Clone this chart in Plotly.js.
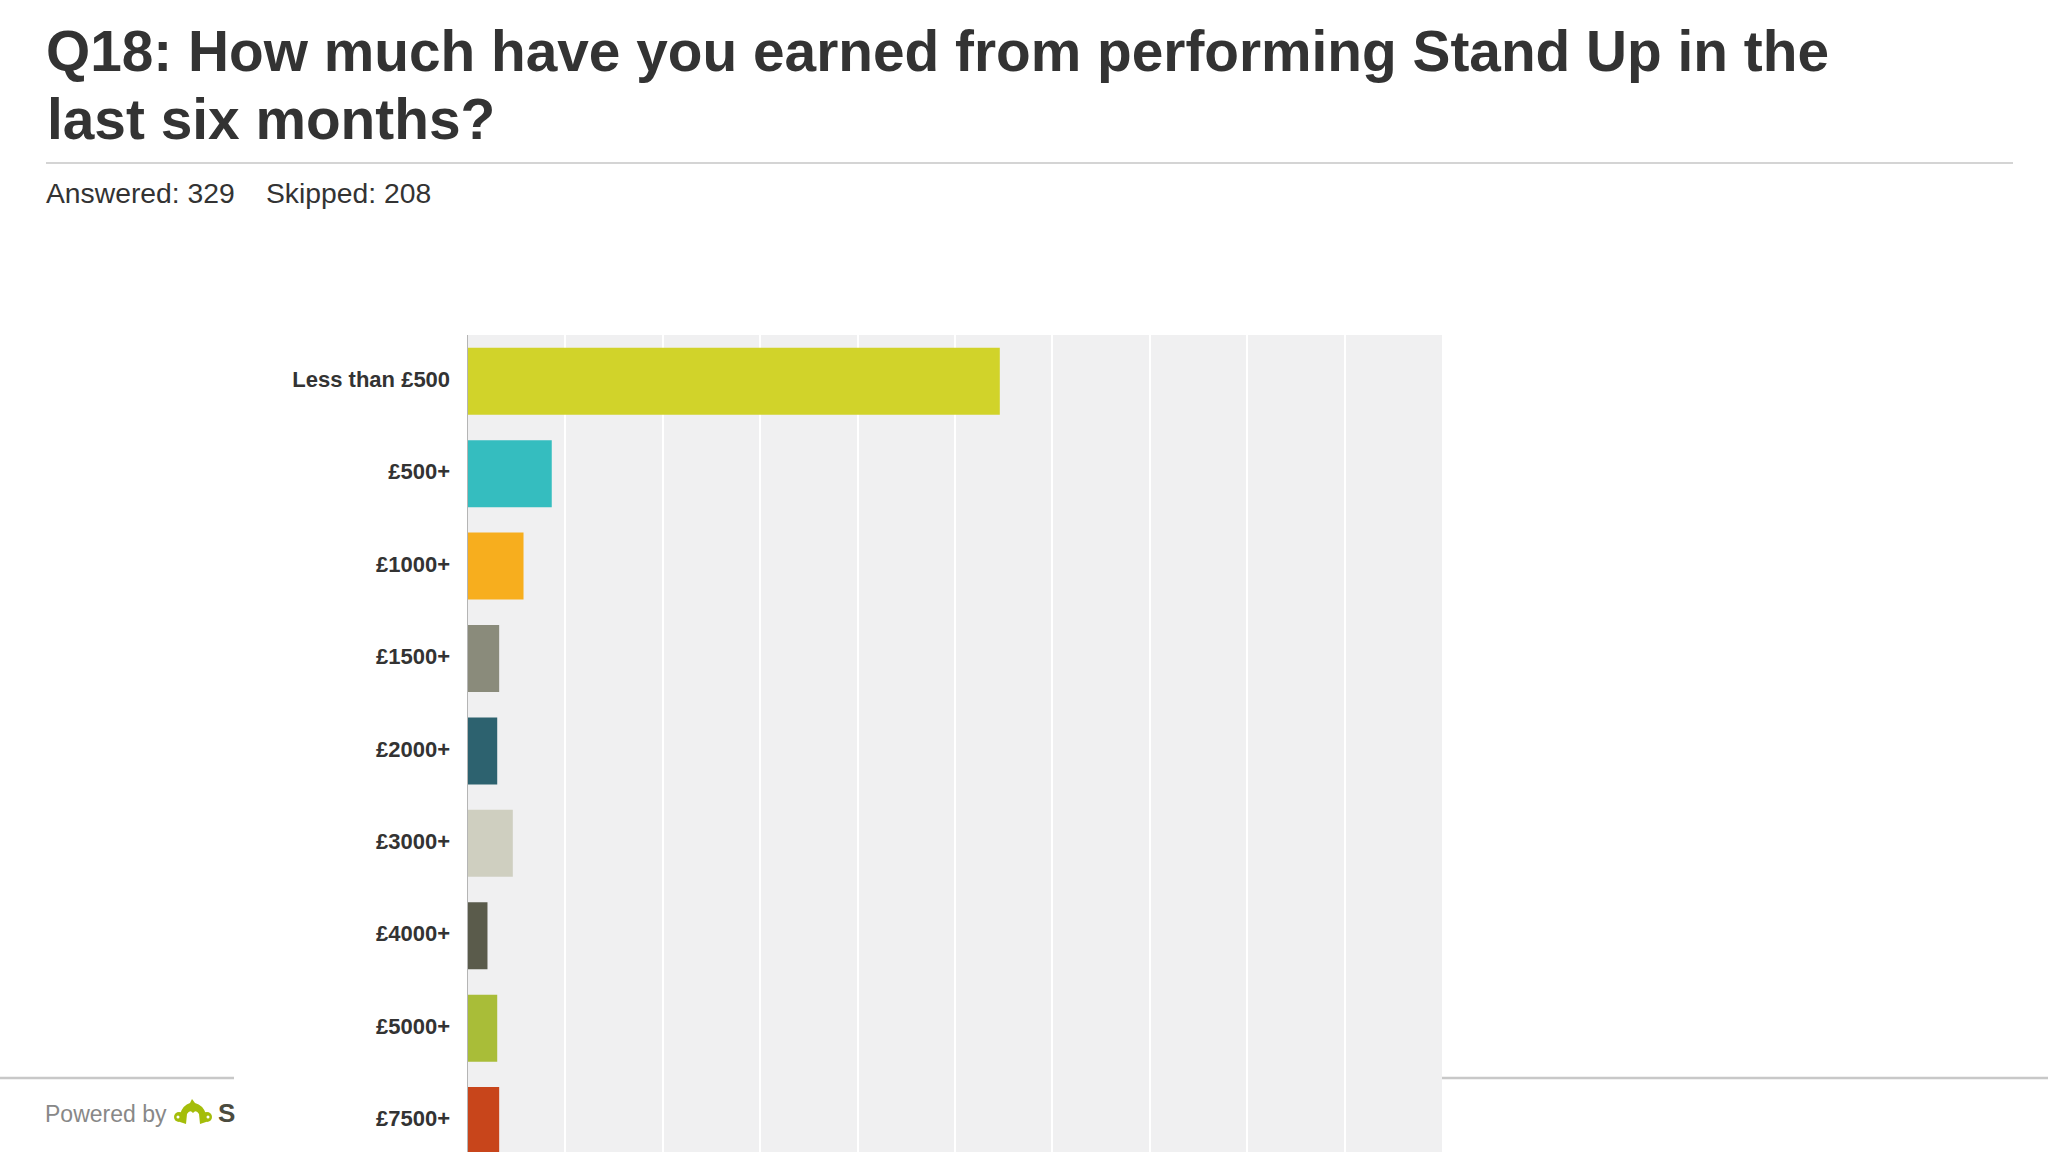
<!DOCTYPE html>
<html><head><meta charset="utf-8">
<script src="https://cdn.plot.ly/plotly-3.0.1.min.js"></script>
<style>html,body{margin:0;padding:0;background:#fff;overflow:hidden}#c{width:2048px;height:1152px}</style>
</head><body><div id="c"></div>
<script>
const categories = ["Less than £500","£500+","£1000+","£1500+","£2000+","£3000+","£4000+","£5000+","£7500+"];
const percentages = [54.6,8.6,5.7,3.2,3.0,4.6,2.0,3.0,3.2];
const barColors = ["#D1D32A","#35BDBF","#F7AE1E","#8A8B7B","#2D626F","#CFCFC0","#5A5B4B","#A9BD38","#C8451B"];
const titleLine1 = "Q18: How much have you earned from performing Stand Up in the";
const titleLine2 = "last six months?";

const L=468,T=335,R=1442,W=2048,H=1152;
const px=x=>(x-L)/(R-L), py=y=>(H-y)/(H-T);
const rule=(x0,x1,y,c,w)=>({type:'line',xref:'paper',yref:'paper',x0:px(x0),x1:px(x1),y0:py(y),y1:py(y),line:{color:c,width:w||2},layer:'above'});
const txt=(text,x,y,size,color,weight)=>({text,x:px(x),y:py(y),xref:'paper',yref:'paper',xanchor:'left',yanchor:'middle',showarrow:false,align:'left',borderpad:0,
  font:{family:'"Liberation Sans",Arial,sans-serif',size,color,weight:weight||400}});
const P=(x,y)=>px(x)+','+py(y);
const circle=(cx,cy,r,c)=>({type:'circle',xref:'paper',yref:'paper',x0:px(cx-r),x1:px(cx+r),y0:py(cy+r),y1:py(cy-r),fillcolor:c,line:{width:0},layer:'above'});
const logo='M'+P(180,1122)+' L'+P(180,1114)+' Q'+P(183,1105)+' '+P(190,1103)+' L'+P(192,1099)+' L'+P(195,1103)
 +' Q'+P(203,1105)+' '+P(206,1114)+' L'+P(206,1122)+' L'+P(200,1124)+' L'+P(199,1114)+' Q'+P(196,1109)+' '+P(193,1113)
 +' Q'+P(190,1109)+' '+P(187,1114)+' L'+P(186,1124)+' Z';

Plotly.newPlot('c',[{
  type:'bar',orientation:'h',y:categories,x:percentages,
  marker:{color:barColors,line:{width:0}},hoverinfo:'skip',showlegend:false
}],{
  width:W,height:H,paper_bgcolor:'#fff',plot_bgcolor:'#F0F0F1',
  margin:{l:L,r:W-R,t:T,b:0,pad:0},bargap:0.275,
  title:{text:'<b>'+titleLine1+'</b>',x:46/W,xanchor:'left',xref:'container',y:1-51.5/H,yref:'container',yanchor:'middle',
    font:{family:'"Liberation Sans",Arial,sans-serif',size:56.8,color:'#333333'}},
  xaxis:{range:[0,100],dtick:10,showgrid:true,gridcolor:'#FFFFFF',gridwidth:2,showticklabels:false,ticks:'',zeroline:false,showline:false},
  yaxis:{type:'category',categoryorder:'array',categoryarray:categories,range:[8.34,-0.5],showgrid:false,zeroline:false,
    showline:true,linecolor:'#B5B5B5',linewidth:1.5,ticks:'',ticklabelstandoff:12,ticklabelshift:2,
    tickfont:{family:'"Liberation Sans",Arial,sans-serif',size:22,color:'#333333',weight:700}},
  shapes:[
    rule(46,2013,163,'#D4D4D4'),
    rule(0,234,1078,'#C8C8C8',2.5),
    rule(1442,2048,1078,'#C8C8C8',2.5),
    {type:'path',xref:'paper',yref:'paper',path:logo,fillcolor:'#A4BD0A',line:{width:0},layer:'above'},
    circle(179,1117,5,'#A4BD0A'),circle(207,1117,5,'#A4BD0A'),
    circle(178,1117,1.5,'#FFFFFF'),circle(208,1117,1.5,'#FFFFFF')
  ],
  annotations:[
    txt('<b>'+titleLine2+'</b>',46,119.5,56.8,'#333333'),
    txt('Answered: 329',45,193,28.3,'#333333'),
    txt('Skipped: 208',265,193,28.3,'#333333'),
    txt('Powered by',44,1114,23,'#888888'),
    txt('S',217,1113,26,'#4B4B3F',700)
  ]
},{displayModeBar:false,staticPlot:true});
</script></body></html>
